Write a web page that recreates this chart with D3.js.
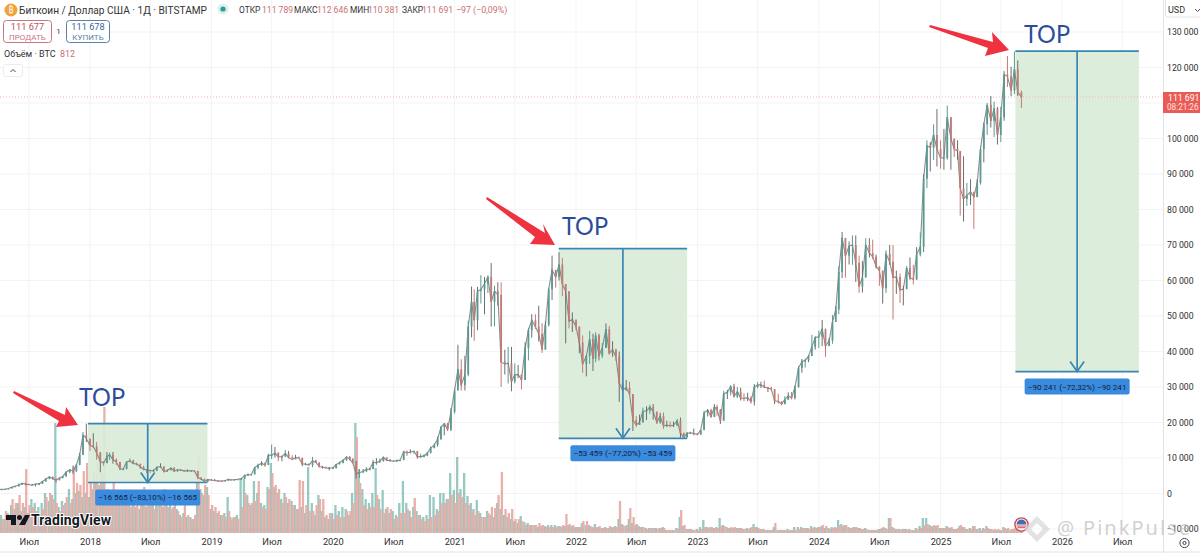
<!DOCTYPE html>
<html>
<head>
<meta charset="utf-8">
<script src="https://cdn.jsdelivr.net/npm/d3@7"></script>
<style>
    html, body { margin: 0; padding: 0; background: #fff; overflow: hidden; }
    svg { display: block; font-family: Roboto, "Noto Sans", sans-serif; }
    .axis path, .axis line { display: none; }
    .axis text { fill: #2f2f2f; font-family: Roboto, sans-serif; }
    .axis.price text { font-size: 8.7px; }
    .axis.time text { font-size: 9.3px; }
    .grid line { stroke: #f3f3f5; stroke-width: 1; }
</style>
</head>
<body>
<svg id="chart" width="1200" height="553"></svg>
<script>
// Three values a month (1st, 11th, 21st), first row April 2017
const closes = [
    1080,1210,1240, 1420,1800,2050, 2400,2900,2700, 2480,2330,2670, 2720,3400,4050, 4700,4200,3700,
    4400,4800,6000, 6700,6300,8100, 10900,16500,15500,
    13500,13200,11500, 9000,8600,10400, 10900,9500,8900, 6900,6900,8900, 9200,8400,8400, 7500,6800,6700,
    6400,6400,7400, 7600,6200,6500, 7200,6300,6700, 6600,6300,6400, 6400,6350,4500, 4100,3400,3900,
    3800,3600,3550, 3500,3650,3950, 3850,3900,4000, 4150,5050,5300, 5350,7300,7950, 8550,8000,10700,
    10800,11400,10300, 10400,11300,10100, 9600,10150,10000, 8300,8300,8000, 9250,8750,7600, 7400,7200,7200,
    7200,8200,8650, 9350,10300,9700, 8550,5600,5900, 6200,6900,6850, 8800,8700,9100, 10200,9300,9300,
    9100,9250,9400, 11800,11400,11700, 11900,10400,10400, 10600,11400,12800, 13700,15300,18700, 19700,18000,23000,
    29000,35000,30500, 33500,47000,54000, 48800,57000,57500, 59000,61000,54000, 57000,56000,37000, 36500,36700,31500,
    33500,33500,32000, 41000,46000,48800, 47000,45000,40500, 47500,57500,63000, 61000,64500,59000, 57000,48500,49000,
    47000,42500,36500, 38700,43500,38000, 44500,38800,41000, 46300,39500,40500, 38500,31000,29200, 29800,28000,20700,
    19300,20000,23200, 23300,24400,23100, 20000,21800,19000, 19300,19100,19200, 20500,17000,15800, 17000,17100,16900,
    16600,17900,22700, 23500,21600,24400, 23600,20500,28100, 28500,30200,27300, 28700,26900,26800, 27000,25900,30000,
    30600,30600,29900, 29700,29400,26100, 25900,25200,26500, 27500,26900,29900, 35400,37100,37500, 38700,41300,43900,
    44200,46300,41500, 43100,48300,51800, 62400,72000,67000, 69700,70000,65000, 58300,60800,70000, 67700,66700,64000,
    62800,57800,67500, 65300,60800,61000, 57300,57600,63500, 60800,60300,67300, 69500,88700,98000, 97400,101000,97000,
    94500,94500,106000, 100000,97000,96500, 86000,83000,84000, 85000,83500,87500, 97000,104000,109500, 105000,108500,101000,
    106000,118000,117500, 113500,119500,113000, 111691
];
const highs = [
    1100,1250,1290, 1450,1850,2200, 2800,3000,3000, 2800,2700,2900, 2950,3450,4400, 4950,4750,4200,
    4450,4900,6200, 6800,7900,8300, 11400,17300,19700,
    14800,17000,14500, 11700,9100,11700, 11500,11700,9900, 8900,7100,9000, 9900,9500,8700, 7700,7800,6800,
    6500,6800,7700, 8500,7700,6700, 7400,7400,6800, 6800,6700,6800, 6600,6500,6400, 4500,4200,4100,
    4100,4100,3700, 3600,3750,4200, 3950,3950,4100, 4200,5400,5650, 5500,7500,8400, 9100,8800,11200,
    13800,13100,11700, 10700,12300,12000, 10800,10900,10400, 10100,8700,8500, 10300,9500,8800, 7800,7600,7500,
    7500,8300,9000, 9600,10500,10500, 10000,9200,6900, 6900,7400,7200, 9500,9950,9800, 10400,10000,9700,
    9300,9500,9450, 12000,12100,12450, 12100,12000,11200, 11000,11700,13200, 14100,16000,19000, 19800,19900,24000,
    29600,41900,37800, 38800,48700,58300, 57500,58200,61500, 61000,61400,64900, 58500,59500,59500, 40500,41300,41300,
    36600,36200,33000, 42600,46700,50500, 50500,52900,48000, 48500,58000,67000, 62900,68000,66300, 59000,52000,51000,
    48200,47000,44500, 39000,45800,45000, 45400,45000,42400, 47900,47200,42900, 40800,40000,31400, 32000,31500,28000,
    21800,22200,24200, 24600,25000,25200, 20200,22700,22800, 20500,20300,20300, 21000,21400,17200, 17300,17400,18300,
    16900,18000,23300, 23800,23900,25200, 25000,23800,28900, 29200,30500,30900, 30000,29800,28200, 28400,27400,30800,
    31400,31500,31800, 30000,30100,29400, 28100,25900,27400, 28500,28600,30400, 35900,37900,38000, 39000,44700,44300,
    45900,48900,46500, 43800,50300,52800, 64000,73700,72000, 71000,72700,72700, 67000,65500,71900, 71900,71500,67300,
    63800,62700,68500, 70000,70000,62800, 62000,58500,64100, 66500,64400,69400, 73500,89900,99500, 99000,104000,108300,
    99500,102700,109300, 106000,99800,99500, 96000,95000,87500, 88500,84000,88500, 97800,104500,110000, 112000,110400,108900,
    108900,119000,123200, 120200,124500,122000, 113500
];
const lows = [
    1000,1070,1180, 1240,1420,1780, 2000,2400,2300, 2400,2250,1900, 2600,2700,3350, 4050,3900,3000,
    4100,4200,4800, 5700,5500,6000, 8000,10800,14500,
    12000,13000,9500, 6000,7800,8500, 9400,8400,8000, 6600,6500,6800, 8800,8300,7900, 7000,6500,5800,
    5800,6100,6300, 7300,5900,6100, 6700,6100,6100, 6400,6200,6200, 6250,6200,4000, 3800,3250,3200,
    3600,3550,3450, 3350,3450,3600, 3700,3800,3850, 3950,4100,5000, 5100,5500,6800, 7800,7500,8900,
    9700,10100,9100, 9100,10300,9900, 9400,9900,9900, 7700,7900,7900, 7400,8700,7300, 7000,7100,6500,
    6900,7000,8200, 8500,9200,9300, 8400,4200,4400, 5900,6100,6500, 7600,8100,8800, 9000,9100,9100,
    8900,9100,9100, 9400,10600,11300, 11200,9800,10200, 10200,10500,11300, 12700,13200,15100, 16400,17600,17600,
    22500,30000,29000, 29000,33000,44000, 43000,46000,53500, 50500,56500,47000, 47100,53000,30000, 33500,31000,28800,
    31000,32500,29300, 32000,37500,43900, 46300,42800,39600, 40800,47000,54500, 58000,60000,55600, 42300,46500,45500,
    46000,39500,34000, 33000,36500,34500, 37000,37500,38100, 41000,39100,38500, 37400,25800,28500, 28900,27500,17600,
    18700,19300,20000, 20700,22400,20800, 19600,19700,18200, 18700,18600,18700, 19000,15700,15500, 15800,16800,16400,
    16400,16600,17800, 21700,21400,21500, 21900,19600,20500, 26600,27600,27100, 26900,26200,26000, 26000,25300,24800,
    29600,29700,29700, 28600,28900,25200, 25300,24900,25100, 26300,26500,26500, 29900,34000,35500, 37000,40200,40500,
    41000,41500,38500, 41800,42200,50500, 50500,60700,60800, 64500,64400,59600, 56500,56600,61000, 66500,66000,63400,
    58500,53500,56500, 64400,49000,56200, 53700,53000,57500, 60200,58900,60200, 66800,68000,86000, 90700,94000,92100,
    91500,91200,94000, 91200,94800,94000, 78300,76600,81000, 81300,74500,83500, 87000,93300,101000, 103100,100400,98300,
    99000,105000,114500, 111900,112500,112000, 108600
];
// Volume in thousand BTC, split in the green and the red bars of each slot
const volumeUp = [
    12,18,14, 20,28,24, 30,22,26, 20,34,30, 26,30,40, 32,38,110,
    26,32,30, 44,34,40, 42,36,40,
    36,44,50, 48,60,40, 34,38,32, 30,32,42, 30,28,26, 24,30,26,
    34,30,42, 36,26,28, 30,26,24, 18,20,16, 16,14,50, 44,38,46,
    24,22,20, 18,20,36, 16,16,18, 55,54,38, 28,52,40, 30,28,46,
    70,46,40, 34,40,30, 32,28,24, 26,20,66, 30,18,38, 22,16,14,
    20,28,22, 26,24,18, 40,110,64, 44,34,30, 40,65,34, 43,24,20,
    22,18,30, 52,30,22, 26,22,18, 16,18,38, 36,24,40, 40,34,60,
    43,76,44, 60,37,30, 24,33,20, 16,22,18, 16,30,24, 18,16,14,
    12,10,17, 11,10,8, 8,6,7, 7,8,8, 8,7,6, 7,8,7,
    6,6,10, 8,8,6, 9,6,5, 6,5,6, 7,14,9, 7,14,10,
    8,7,6, 5,5,5, 5,5,6, 3,3,3, 5,16,7, 4,4,3,
    4,6,13, 6,6,5, 6,15,8, 6,5,5, 5,5,4, 5,5,9,
    6,4,4, 3,3,6, 3,3,3, 4,3,6, 6,6,5, 5,7,6,
    6,7,5, 5,6,6, 13,9,8, 6,5,6, 5,4,5, 3,3,3,
    4,5,5, 15,6,4, 4,4,4, 4,3,5, 7,15,15, 8,7,7,
    5,5,7, 5,4,4, 7,6,4, 5,7,4, 5,5,7, 4,3,3,
    3,6,4, 3,4,3, 2
];
const volumeDown = [
    10,14,22, 16,34,30, 38,30,64, 28,26,22, 20,24,36, 40,34,30,
    22,28,36, 30,66,50, 48,62,70,
    52,60,72, 62,126,44, 30,50,34, 34,28,30, 26,38,30, 30,46,36,
    30,24,28, 40,44,26, 24,36,22, 16,34,18, 14,18,76, 40,48,38,
    28,26,22, 18,16,22, 14,16,14, 26,40,30, 30,32,52, 26,24,44,
    60,48,44, 30,36,34, 28,24,53, 52,28,22, 22,28,34, 34,18,20,
    14,18,16, 16,22,22, 30,96,50, 28,24,26, 26,38,24, 20,26,24,
    14,16,20, 20,24,16, 35,18,14, 12,14,16, 18,22,30, 30,34,38,
    30,40,36, 30,28,22, 18,22,16, 16,20,26, 25,38,61, 24,20,24,
    14,14,12, 8,8,8, 8,10,8, 6,6,6, 6,7,8, 19,9,8,
    6,6,12, 12,7,6, 6,7,5, 5,7,6, 6,32,8, 8,25,16,
    9,6,6, 4,5,5, 4,5,5, 3,3,3, 4,23,8, 4,4,3,
    3,4,6, 5,6,5, 5,7,7, 5,6,6, 5,5,4, 4,6,6,
    5,4,3, 3,3,10, 3,3,3, 3,3,3, 4,5,5, 4,5,5,
    6,8,7, 4,5,5, 8,7,8, 5,6,6, 5,4,4, 3,3,3,
    4,6,4, 15,5,4, 3,4,3, 3,3,4, 5,8,9, 7,8,8,
    5,5,6, 6,4,5, 8,6,4, 4,7,4, 3,4,5, 4,4,4,
    3,5,5, 4,5,4, 3
];

const priceTicks = [130000, 120000, 100000, 90000, 80000, 70000, 60000, 50000, 40000, 30000, 20000, 10000, 0, -10000];
const gridPrices = [130000, 120000, 110000, 100000, 90000, 80000, 70000, 60000, 50000, 40000, 30000, 20000, 10000, 0, -10000];
const timeTicks = ["2017-07-01", "2018-01-01", "2018-07-01", "2019-01-01", "2019-07-01", "2020-01-01", "2020-07-01", "2021-01-01",
    "2021-07-01", "2022-01-01", "2022-07-01", "2023-01-01", "2023-07-01", "2024-01-01", "2024-07-01", "2025-01-01", "2025-07-01",
    "2026-01-01", "2026-07-01"];

// The three drawdown measures
const measureStart = ["2017-12-26", "2021-11-10", "2025-08-14"];
const measureEnd = ["2018-12-20", "2022-12-01", "2026-08-20"];
const measureTop = [19666, 69000, 124600];
const measureDrop = [16565, 53459, 90241];
const measureLabels = ["−16 565 (−83,10%) −16 565", "−53 459 (−77,20%) −53 459", "−90 241 (−72,32%) −90 241"];
const lastPrice = 111691;

document.addEventListener("DOMContentLoaded", function() {
    const svg = d3.select("#chart");
    const plotRight = 1163;

    const parseDay = d3.utcParse("%Y-%m-%d");
    const x = d3.scaleUtc().domain([parseDay("2018-01-01"), parseDay("2026-01-01")]).range([90, 1062]);
    const y = d3.scaleLinear().domain([-10000, 130000]).range([529, 32]);
    const volumeY = d3.scaleLinear().domain([0, 130]).range([533, 403]);

    const dates = closes.map((_, i) => new Date(Date.UTC(2017, 3 + Math.floor(i / 3), 1 + 10 * (i % 3))));
    const tickDates = timeTicks.map(parseDay);
    const money = v => d3.format(",")(v).replace(/,/g, " ").replace("-", "−");
    const timeLabel = d => d.getUTCMonth() === 0 ? String(d.getUTCFullYear()) : "Июл";

    // grid
    svg.append("g").attr("class", "grid").selectAll("line").data(tickDates).join("line")
        .attr("x1", d => x(d)).attr("x2", d => x(d)).attr("y1", 0).attr("y2", 534);
    svg.append("g").attr("class", "grid").selectAll("line").data(gridPrices).join("line")
        .attr("x1", 0).attr("x2", plotRight).attr("y1", d => y(d)).attr("y2", d => y(d));

    // volume at the bottom, bars of one slot overlap so the foot of it reads as a mix
    const volume = svg.append("g").attr("opacity", 0.62).style("filter", "blur(0.45px)");
    volume.selectAll(".up").data(volumeUp).join("rect").attr("class", "up")
        .attr("x", (d, i) => x(dates[i]) - 1.9).attr("width", 2.3)
        .attr("y", d => volumeY(d)).attr("height", d => volumeY(0) - volumeY(d))
        .attr("fill", "#5aa89e");
    volume.selectAll(".down").data(volumeDown).join("rect").attr("class", "down")
        .attr("x", (d, i) => x(dates[i]) - 0.4).attr("width", 2.3)
        .attr("y", d => volumeY(d)).attr("height", d => volumeY(0) - volumeY(d))
        .attr("fill", "#dc8076");

    // green boxes of the measures go under the candles
    svg.append("g").selectAll("rect").data(measureTop).join("rect")
        .attr("x", (d, i) => x(parseDay(measureStart[i])))
        .attr("width", (d, i) => x(parseDay(measureEnd[i])) - x(parseDay(measureStart[i])))
        .attr("y", d => y(d))
        .attr("height", (d, i) => y(d - measureDrop[i]) - y(d))
        .attr("fill", "#d9ecd9").attr("fill-opacity", 0.92);

    // last price line
    svg.append("line").attr("x1", 0).attr("x2", plotRight).attr("y1", y(lastPrice)).attr("y2", y(lastPrice))
        .attr("stroke", "#eeb9b5").attr("stroke-width", 1).attr("stroke-dasharray", "1 2");

    // candles
    const openOf = i => i === 0 ? 1040 : closes[i - 1];
    const candleColor = i => closes[i] >= openOf(i) ? "#5a9a91" : "#c27a74";
    const candles = svg.append("g").style("filter", "blur(0.3px)");
    candles.append("path")
        .datum(closes)
        .attr("d", d3.line().x((d, i) => x(dates[i])).y(d => y(d)))
        .attr("fill", "none").attr("stroke", "#666").attr("stroke-width", 1.1).attr("opacity", 0.75);
    candles.selectAll("line").data(closes).join("line")
        .attr("x1", (d, i) => x(dates[i])).attr("x2", (d, i) => x(dates[i]))
        .attr("y1", (d, i) => y(highs[i])).attr("y2", (d, i) => y(lows[i]))
        .attr("stroke", (d, i) => i % 2 ? candleColor(i) : "#6d6d6d").attr("stroke-width", 1);
    candles.selectAll("rect").data(closes).join("rect")
        .attr("x", (d, i) => x(dates[i]) - 0.9).attr("width", 1.8)
        .attr("y", (d, i) => Math.min(y(d), y(openOf(i))))
        .attr("height", (d, i) => Math.max(1, Math.abs(y(d) - y(openOf(i)))))
        .attr("fill", (d, i) => candleColor(i));

    // lines, arrows and labels of the measures
    const blue = "#3a86b3";
    measureTop.forEach(function(top, i) {
        const left = x(parseDay(measureStart[i]));
        const right = x(parseDay(measureEnd[i]));
        const mid = (left + right) / 2;
        const yTop = y(top);
        const yBottom = y(top - measureDrop[i]);
        const g = svg.append("g").attr("fill", "none").attr("stroke", blue).attr("stroke-width", 1.7);
        g.append("line").attr("x1", left).attr("x2", right).attr("y1", yTop).attr("y2", yTop);
        g.append("line").attr("x1", left).attr("x2", right).attr("y1", yBottom).attr("y2", yBottom);
        g.append("line").attr("x1", mid).attr("x2", mid).attr("y1", yTop).attr("y2", yBottom);
        g.append("path").attr("d", `M${mid - 7},${yBottom - 10}L${mid},${yBottom}L${mid + 7},${yBottom - 10}`);

        svg.append("rect").attr("x", mid - 52.5).attr("y", yBottom + 7).attr("width", 105).attr("height", 16)
            .attr("rx", 2).attr("fill", "#3a8ade");
        svg.append("text").attr("x", mid).attr("y", yBottom + 18).attr("text-anchor", "middle")
            .attr("font-size", 8.1).attr("fill", "#10243c").text(measureLabels[i]);
    });

    // red arrows
    const arrows = [
        "14,391 65,415 66,407 78,425 56,427 59,421 13,393",
        "487,197 545,233 543,224 555,245 530,244 535,237 486,199",
        "930,25 993,42 992,32 1009,50 985,56 988,48 929,27"
    ];
    svg.append("g").selectAll("polygon").data(arrows).join("polygon")
        .attr("points", d => d).attr("fill", "#ee3240");

    // TOP captions
    const topX = [79, 562, 1024];
    const topY = [406, 235, 43];
    svg.append("g").selectAll("text").data(topX).join("text")
        .attr("x", d => d).attr("y", (d, i) => topY[i])
        .attr("font-family", "Lato, sans-serif").attr("font-size", 25)
        .attr("textLength", 46).attr("lengthAdjust", "spacingAndGlyphs")
        .attr("fill", "#2c4b9c").text("TOP");

    // right and bottom axes
    svg.append("rect").attr("x", plotRight).attr("y", 0).attr("width", 37).attr("height", 553).attr("fill", "#fff");
    svg.append("rect").attr("x", 0).attr("y", 534).attr("width", 1200).attr("height", 19).attr("fill", "#fff");
    svg.append("line").attr("x1", plotRight + 0.5).attr("x2", plotRight + 0.5).attr("y1", 0).attr("y2", 553).attr("stroke", "#e2e2e5");
    svg.append("line").attr("x1", 0).attr("x2", 1200).attr("y1", 552).attr("y2", 552).attr("stroke", "#e2e2e5");

    svg.append("g").attr("class", "axis price").attr("transform", `translate(${plotRight - 1},0)`)
        .call(d3.axisRight(y).tickValues(priceTicks).tickFormat(money).tickSize(0).tickPadding(5));
    svg.append("g").attr("class", "axis time").attr("transform", "translate(0,534)")
        .call(d3.axisBottom(x).tickValues(tickDates).tickFormat(timeLabel).tickSize(0).tickPadding(4));

    // USD box
    svg.append("rect").attr("x", 1165.5).attr("y", -1).attr("width", 40).attr("height", 18).attr("rx", 2)
        .attr("fill", "#fff").attr("stroke", "#e4e4e7");
    svg.append("text").attr("x", 1168).attr("y", 13).attr("font-size", 9).attr("fill", "#333").text("USD");
    svg.append("path").attr("d", "M1195,9l2.5,2.5l2.5,-2.5").attr("fill", "none").attr("stroke", "#555");

    // last price tag
    svg.append("rect").attr("x", plotRight).attr("y", 92).attr("width", 37).attr("height", 21).attr("fill", "#ea5b55");
    svg.append("text").attr("x", 1168).attr("y", 101).attr("font-size", 8.7).attr("fill", "#fff").text(money(lastPrice));
    svg.append("text").attr("x", 1167).attr("y", 110).attr("font-size", 8.2).attr("fill", "#fde3e1").text("08:21:26");

    // settings wheel
    svg.append("circle").attr("cx", 1184.5).attr("cy", 543).attr("r", 4.6).attr("fill", "none").attr("stroke", "#444").attr("stroke-width", 1);
    svg.append("circle").attr("cx", 1184.5).attr("cy", 543).attr("r", 1.6).attr("fill", "none").attr("stroke", "#444").attr("stroke-width", 1);

    // header
    const header = svg.append("g");
    header.append("circle").attr("cx", 11).attr("cy", 10).attr("r", 6.5).attr("fill", "#f0a23c");
    header.append("text").attr("x", 11).attr("y", 13).attr("text-anchor", "middle").attr("font-size", 8.5).attr("fill", "#fff").text("₿");
    header.append("text").attr("x", 19).attr("y", 14).attr("font-size", 11.5).attr("fill", "#333")
        .attr("textLength", 188).attr("lengthAdjust", "spacingAndGlyphs").text("Биткоин / Доллар США · 1Д · BITSTAMP");
    header.append("circle").attr("cx", 223).attr("cy", 9).attr("r", 5.5).attr("fill", "#dcf1ee");
    header.append("circle").attr("cx", 223).attr("cy", 9).attr("r", 2.6).attr("fill", "#2f9c8d");

    const quoteNames = ["ОТКР", "МАКС", "МИН", "ЗАКР"];
    const quoteValues = ["111 789", "112 646", "110 381", "111 691"];
    const quoteNameX = [239, 294, 350, 402];
    const quoteValueX = [262, 317, 368, 422];
    const red = "#c9716f";
    quoteNames.forEach(function(name, i) {
        header.append("text").attr("x", quoteNameX[i]).attr("y", 13).attr("font-size", 8.4).attr("fill", "#333").text(name);
        header.append("text").attr("x", quoteValueX[i]).attr("y", 13).attr("font-size", 8.6).attr("fill", red).text(quoteValues[i]);
    });
    header.append("text").attr("x", 456).attr("y", 13).attr("font-size", 8.8).attr("fill", red).text("−97 (−0,09%)");

    header.append("rect").attr("x", 3.5).attr("y", 20.5).attr("width", 48).attr("height", 22).attr("rx", 3).attr("fill", "#fff").attr("stroke", "#c8757b");
    header.append("text").attr("x", 27.5).attr("y", 30).attr("text-anchor", "middle").attr("font-size", 9.2).attr("fill", "#b8505a").text("111 677");
    header.append("text").attr("x", 27.5).attr("y", 39.5).attr("text-anchor", "middle").attr("font-size", 8).attr("fill", "#c8757b").text("ПРОДАТЬ");
    header.append("text").attr("x", 58.5).attr("y", 34).attr("text-anchor", "middle").attr("font-size", 8).attr("fill", "#444").text("1");
    header.append("rect").attr("x", 66.5).attr("y", 20.5).attr("width", 43).attr("height", 22).attr("rx", 3).attr("fill", "#fff").attr("stroke", "#5b7fa8");
    header.append("text").attr("x", 88).attr("y", 30).attr("text-anchor", "middle").attr("font-size", 9.2).attr("fill", "#3c5f94").text("111 678");
    header.append("text").attr("x", 88).attr("y", 39.5).attr("text-anchor", "middle").attr("font-size", 8).attr("fill", "#5b7fa8").text("КУПИТЬ");

    header.append("text").attr("x", 4).attr("y", 57).attr("font-size", 9).attr("fill", "#333").text("Объём · BTC");
    header.append("text").attr("x", 60).attr("y", 57).attr("font-size", 9).attr("fill", red).text("812");
    header.append("rect").attr("x", 3.5).attr("y", 64.5).attr("width", 19).attr("height", 12).attr("rx", 2).attr("fill", "#fff").attr("stroke", "#ececee");
    header.append("path").attr("d", "M10.5,72l2.5,-2.5l2.5,2.5").attr("fill", "none").attr("stroke", "#444").attr("stroke-width", 1);

    // TradingView mark
    const logo = svg.append("g");
    logo.append("path").attr("d", "M6,515h10v10h-5v-5h-5zM25,515h5l-5,10h-6z").attr("fill", "#131722");
    logo.append("circle").attr("cx", 19.5).attr("cy", 517.5).attr("r", 2.5).attr("fill", "#131722");
    logo.append("text").attr("x", 31).attr("y", 525).attr("font-size", 14).attr("font-weight", 700)
        .attr("fill", "#131722").attr("stroke", "#fff").attr("stroke-width", 2).attr("paint-order", "stroke")
        .attr("textLength", 80).text("TradingView");

    // event flag near the end of the volume
    const flag = svg.append("g").attr("transform", "translate(1021.5,524.5)");
    flag.append("circle").attr("r", 6.6).attr("fill", "#fff").attr("stroke", "#d8454f").attr("stroke-width", 1.4);
    flag.append("path").attr("d", "M-5,0A5,5 0 0 1 5,0z").attr("fill", "#3d6fb8");
    flag.append("path").attr("d", "M-5,1.5h10M-4,3.2h8").attr("stroke", "#d8454f").attr("stroke-width", 1);

    // watermark
    const mark = svg.append("g").attr("fill", "#bdbdbd").attr("fill-opacity", 0.7);
    mark.append("path").attr("d", "M1037,516l13,13l-13,13l-13,-13zM1037,523l-6,6l6,6l6,-6z").attr("fill-rule", "evenodd").attr("fill", "#d5d5d5");
    mark.append("text").attr("x", 1057).attr("y", 535).attr("font-size", 19).attr("font-family", "Noto Sans, sans-serif").text("@");
    mark.append("text").attr("x", 1083).attr("y", 535).attr("font-size", 20).attr("font-family", "Noto Sans, sans-serif")
        .attr("textLength", 107).text("PinkPulse");
});
</script>
</body>
</html>
